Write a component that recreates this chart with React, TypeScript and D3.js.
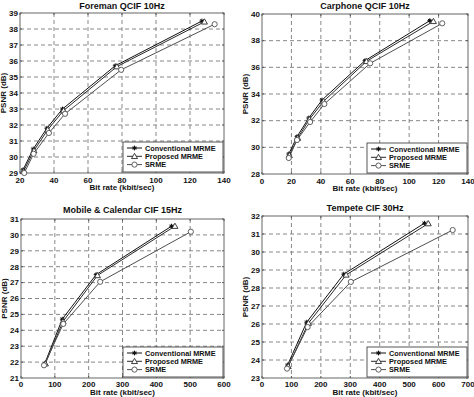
import React from "react";
import * as d3 from "d3";

const W = 474;
const H = 397;

// Foreman QCIF 10Hz
const foremanConvX = [21.8, 27.8, 35.8, 45, 76, 127];
const foremanConvY = [29.2, 30.5, 31.8, 33.0, 35.7, 38.5];
const foremanPropX = [22, 28.2, 36.3, 45.6, 77, 128.5];
const foremanPropY = [29.1, 30.4, 31.7, 32.9, 35.65, 38.45];
const foremanSrmeX = [22.5, 28, 37, 46.5, 79.5, 134.5];
const foremanSrmeY = [29.0, 30.2, 31.5, 32.7, 35.45, 38.3];

// Carphone QCIF 10Hz
const carphoneConvX = [18.2, 23.8, 31.8, 40.8, 70, 114];
const carphoneConvY = [29.5, 30.8, 32.2, 33.55, 36.5, 39.5];
const carphonePropX = [18.6, 24.3, 32.2, 41.8, 71, 116.5];
const carphonePropY = [29.4, 30.7, 32.1, 33.45, 36.45, 39.45];
const carphoneSrmeX = [18.2, 23.8, 32.7, 42.4, 73.5, 122.5];
const carphoneSrmeY = [29.2, 30.55, 31.9, 33.25, 36.3, 39.3];

// Mobile & Calendar CIF 15Hz
const mobileConvX = [70, 122, 222, 445];
const mobileConvY = [21.9, 24.7, 27.5, 30.55];
const mobilePropX = [72, 124, 226, 455];
const mobilePropY = [21.9, 24.55, 27.45, 30.55];
const mobileSrmeX = [68, 125, 234, 502];
const mobileSrmeY = [21.8, 24.4, 27.05, 30.2];

// Tempete CIF 30Hz
const tempeteConvX = [87, 152, 278, 552];
const tempeteConvY = [23.72, 26.1, 28.77, 31.6];
const tempetePropX = [89, 158, 286, 565];
const tempetePropY = [23.65, 26.05, 28.73, 31.58];
const tempeteSrmeX = [85, 155, 302, 648];
const tempeteSrmeY = [23.52, 25.83, 28.34, 31.22];

const titles = ["Foreman QCIF 10Hz", "Carphone QCIF 10Hz", "Mobile & Calendar CIF 15Hz", "Tempete CIF 30Hz"];
const seriesNames = ["Conventional MRME", "Proposed MRME", "SRME"];
const xTickSets = [
  [20, 40, 60, 80, 100, 120, 140],
  [0, 20, 40, 60, 80, 100, 120, 140],
  [0, 100, 200, 300, 400, 500, 600],
  [0, 100, 200, 300, 400, 500, 600, 700],
];
const yTickSets = [
  [29, 30, 31, 32, 33, 34, 35, 36, 37, 38, 39],
  [28, 30, 32, 34, 36, 38, 40],
  [21, 22, 23, 24, 25, 26, 27, 28, 29, 30, 31],
  [23, 24, 25, 26, 27, 28, 29, 30, 31, 32],
];
const xLabel = "Bit rate (kbit/sec)";
const yLabel = "PSNR (dB)";

const panelSeries = [
  [[foremanConvX, foremanConvY], [foremanPropX, foremanPropY], [foremanSrmeX, foremanSrmeY]],
  [[carphoneConvX, carphoneConvY], [carphonePropX, carphonePropY], [carphoneSrmeX, carphoneSrmeY]],
  [[mobileConvX, mobileConvY], [mobilePropX, mobilePropY], [mobileSrmeX, mobileSrmeY]],
  [[tempeteConvX, tempeteConvY], [tempetePropX, tempetePropY], [tempeteSrmeX, tempeteSrmeY]],
];

// layout (pixels)
const boxes = [
  { x0: 20, x1: 224, y0: 13, y1: 173, ty: 9, tk: 9.5, xl: 190 },
  { x0: 262, x1: 468, y0: 14, y1: 174, ty: 9, tk: 9.5, xl: 191 },
  { x0: 21, x1: 224, y0: 219, y1: 378, ty: 213, tk: 8.5, xl: 394.5 },
  { x0: 262, x1: 468, y0: 216, y1: 378, ty: 211, tk: 8.5, xl: 394.5 },
];

const lineColors = ["#111", "#2a2a2a", "#505050"];
const FONT = "'Liberation Sans', Arial, sans-serif";

function Marker({ kind, x, y, color }: { kind: number; x: number; y: number; color: string }) {
  if (kind === 0) {
    const r = 2.4;
    return (
      <g stroke={color} strokeWidth={1}>
        <line x1={x - r} y1={y} x2={x + r} y2={y} />
        <line x1={x} y1={y - r} x2={x} y2={y + r} />
        <line x1={x - r * 0.7} y1={y - r * 0.7} x2={x + r * 0.7} y2={y + r * 0.7} />
        <line x1={x - r * 0.7} y1={y + r * 0.7} x2={x + r * 0.7} y2={y - r * 0.7} />
        <circle cx={x} cy={y} r={1.3} fill={color} stroke="none" />
      </g>
    );
  }
  if (kind === 1) {
    const s = 3;
    return (
      <path
        d={`M${x},${y - s} L${x + s},${y + s * 0.75} L${x - s},${y + s * 0.75} Z`}
        fill="white"
        stroke={color}
        strokeWidth={0.9}
      />
    );
  }
  return <circle cx={x} cy={y} r={2.6} fill="white" stroke={color} strokeWidth={0.9} />;
}

function Panel({ idx }: { idx: number }) {
  const b = boxes[idx];
  const xt = xTickSets[idx];
  const yt = yTickSets[idx];
  const xs = d3.scaleLinear().domain([xt[0], xt[xt.length - 1]]).range([b.x0, b.x1]);
  const ys = d3.scaleLinear().domain([yt[0], yt[yt.length - 1]]).range([b.y1, b.y0]);
  const line = d3
    .line<[number, number]>()
    .x((d) => xs(d[0]))
    .y((d) => ys(d[1]));
  const series = panelSeries[idx];
  const lw = 100;
  const lh = 30;
  const lx = b.x1 - lw - 1;
  const ly = b.y1 - lh - 1;
  return (
    <g>
      <text x={(b.x0 + b.x1) / 2} y={b.ty} textAnchor="middle" fontSize={9} fontWeight="bold" fontFamily={FONT} fill="#111">
        {titles[idx]}
      </text>
      <rect x={b.x0} y={b.y0} width={b.x1 - b.x0} height={b.y1 - b.y0} fill="white" />
      {/* grid */}
      {xt.slice(1, -1).map((t) => (
        <line key={"gx" + t} x1={xs(t)} x2={xs(t)} y1={b.y0} y2={b.y1} stroke="#7a7a7a" strokeWidth={0.9} strokeDasharray="4,3" />
      ))}
      {yt.slice(1, -1).map((t) => (
        <line key={"gy" + t} x1={b.x0} x2={b.x1} y1={ys(t)} y2={ys(t)} stroke="#7a7a7a" strokeWidth={0.9} strokeDasharray="4,3" />
      ))}
      {/* ticks */}
      {xt.map((t) => (
        <g key={"tx" + t}>
          <line x1={xs(t)} x2={xs(t)} y1={b.y1} y2={b.y1 - 2} stroke="#555" />
          <line x1={xs(t)} x2={xs(t)} y1={b.y0} y2={b.y0 + 2} stroke="#555" />
          <text x={xs(t)} y={b.y1 + b.tk} textAnchor="middle" fontSize={8} fontWeight="bold" fontFamily={FONT} fill="#111">
            {t}
          </text>
        </g>
      ))}
      {yt.map((t) => (
        <g key={"ty" + t}>
          <line x1={b.x0} x2={b.x0 + 2} y1={ys(t)} y2={ys(t)} stroke="#555" />
          <line x1={b.x1} x2={b.x1 - 2} y1={ys(t)} y2={ys(t)} stroke="#555" />
          <text x={b.x0 - 2} y={ys(t)} dy="0.35em" textAnchor="end" fontSize={8} fontWeight="bold" fontFamily={FONT} fill="#111">
            {t}
          </text>
        </g>
      ))}
      <rect x={b.x0} y={b.y0} width={b.x1 - b.x0} height={b.y1 - b.y0} fill="none" stroke="#666" strokeWidth={1} />
      {/* series */}
      {series.map((s, si) => {
        const pts: [number, number][] = s[0].map((v, i) => [v, s[1][i]]);
        return (
          <g key={"s" + si}>
            <path d={line(pts) || ""} fill="none" stroke={lineColors[si]} strokeWidth={1} />
          </g>
        );
      })}
      {series.map((s, si) =>
        s[0].map((v, i) => <Marker key={"m" + si + "-" + i} kind={si} x={xs(v)} y={ys(s[1][i])} color={lineColors[si]} />)
      )}
      {/* axis labels */}
      <text x={(b.x0 + b.x1) / 2} y={b.xl} textAnchor="middle" fontSize={8} fontWeight="bold" fontFamily={FONT} fill="#111">
        {xLabel}
      </text>
      <text
        transform={`translate(${b.x0 - 14},${(b.y0 + b.y1) / 2}) rotate(-90)`}
        textAnchor="middle"
        fontSize={8}
        fontWeight="bold"
        fontFamily={FONT}
        fill="#111"
      >
        {yLabel}
      </text>
      {/* legend */}
      <rect x={lx} y={ly} width={lw} height={lh} fill="white" stroke="#444" strokeWidth={0.9} />
      {seriesNames.map((n, si) => {
        const yy = ly + 6 + si * 8.3;
        return (
          <g key={"lg" + si}>
            <line x1={lx + 4} x2={lx + 19} y1={yy} y2={yy} stroke={lineColors[si]} strokeWidth={1} />
            <Marker kind={si} x={lx + 11.5} y={yy} color={lineColors[si]} />
            <text x={lx + 22} y={yy} dy="0.35em" fontSize={7.3} fontWeight="bold" fontFamily={FONT} fill="#111">
              {n}
            </text>
          </g>
        );
      })}
    </g>
  );
}

export default function App() {
  return (
    <svg
      width={W}
      height={H}
      viewBox={`0 0 ${W} ${H}`}
      style={{ display: "block", background: "white", position: "absolute", left: 0, top: 0 }}
    >
      <rect x={0} y={0} width={W} height={H} fill="white" />
      {[0, 1, 2, 3].map((i) => (
        <Panel key={i} idx={i} />
      ))}
    </svg>
  );
}
